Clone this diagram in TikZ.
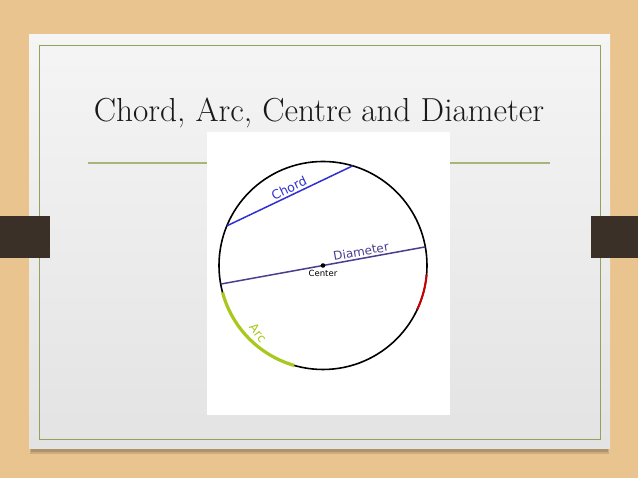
\documentclass[tikz,border=0pt]{standalone}
\usepackage{fontspec}
\newfontfamily\labelfont{DejaVu Sans}
\definecolor{wood}{HTML}{E9C48E}
\definecolor{tab}{HTML}{3B3028}
\definecolor{olive}{HTML}{8FA45A}
\definecolor{chordblue}{HTML}{3030D0}
\definecolor{diamblue}{HTML}{4A3F8F}
\definecolor{arcgreen}{HTML}{A8C81E}

\begin{document}
\begin{tikzpicture}[x=1pt,y=1pt,thick]
\useasboundingbox (0,0) rectangle (638,478);

\def\R{104}
\def\cx{323}
\def\cy{212.5}

% slide background
\fill[wood] (0,0) rectangle (638,478);
\fill[black,opacity=0.12] (30,24) rectangle (609,31);
\fill[black,opacity=0.15] (31,25.5) rectangle (608,31);
\shade[top color=white!96!black,bottom color=white!89!black] (29,29) rectangle (610,443);
\draw[olive,line width=1] (39,38) rectangle (600,432);
\fill[tab] (0,220) rectangle (50,262);
\fill[tab] (591,220) rectangle (638,262);

\node[anchor=base,font=\fontsize{33.3}{38}\selectfont,text=black!90] (title) at (319,356) {Chord, Arc, Centre and Diameter};
\draw[olive!80,line width=1.2] (88,315)--(550,315);

% the picture
\fill[white] (207,63) rectangle (450,346);

\coordinate (O) at (\cx,\cy);

\coordinate (A) at ({\cx+\R*cos(157.6)},{\cy+\R*sin(157.6)});
\coordinate (B) at ({\cx+\R*cos(73.4)},{\cy+\R*sin(73.4)});

\coordinate (C) at ({\cx+\R*cos(190.3)},{\cy+\R*sin(190.3)});
\coordinate (D) at ({\cx+\R*cos(10.3)},{\cy+\R*sin(10.3)});

\coordinate (E) at ({\cx+\R*cos(195)},{\cy+\R*sin(195)});
\coordinate (F) at ({\cx+\R*cos(-25)},{\cy+\R*sin(-25)});

\draw[black,line width=1.6] (O) circle[radius=\R];

\draw[chordblue,line width=1.5] (A)--(B);
\draw[diamblue,line width=1.5] (C)--(D);

\draw[arcgreen,line width=3.2] (E) arc[start angle=195,end angle=254,radius=\R];
\draw[red!80!black,line width=2] (F) arc[start angle=-25,end angle=-5,radius=\R];

\fill[black] (O) circle[radius=2.3];

\node[chordblue,rotate=25,font=\labelfont\fontsize{12.5}{14}\selectfont] (chord) at (289,290) {Chord};
\node[diamblue,rotate=10,font=\labelfont\fontsize{12}{14}\selectfont] (diam) at (361,226.5) {Diameter};
\node[black,below=0.5,font=\labelfont\fontsize{8.5}{10}\selectfont] (centre) at (O) {Center};
\node[arcgreen,rotate=-52,font=\labelfont\fontsize{12}{14}\selectfont] (arc) at (258,145) {Arc};

\end{tikzpicture}
\end{document}
